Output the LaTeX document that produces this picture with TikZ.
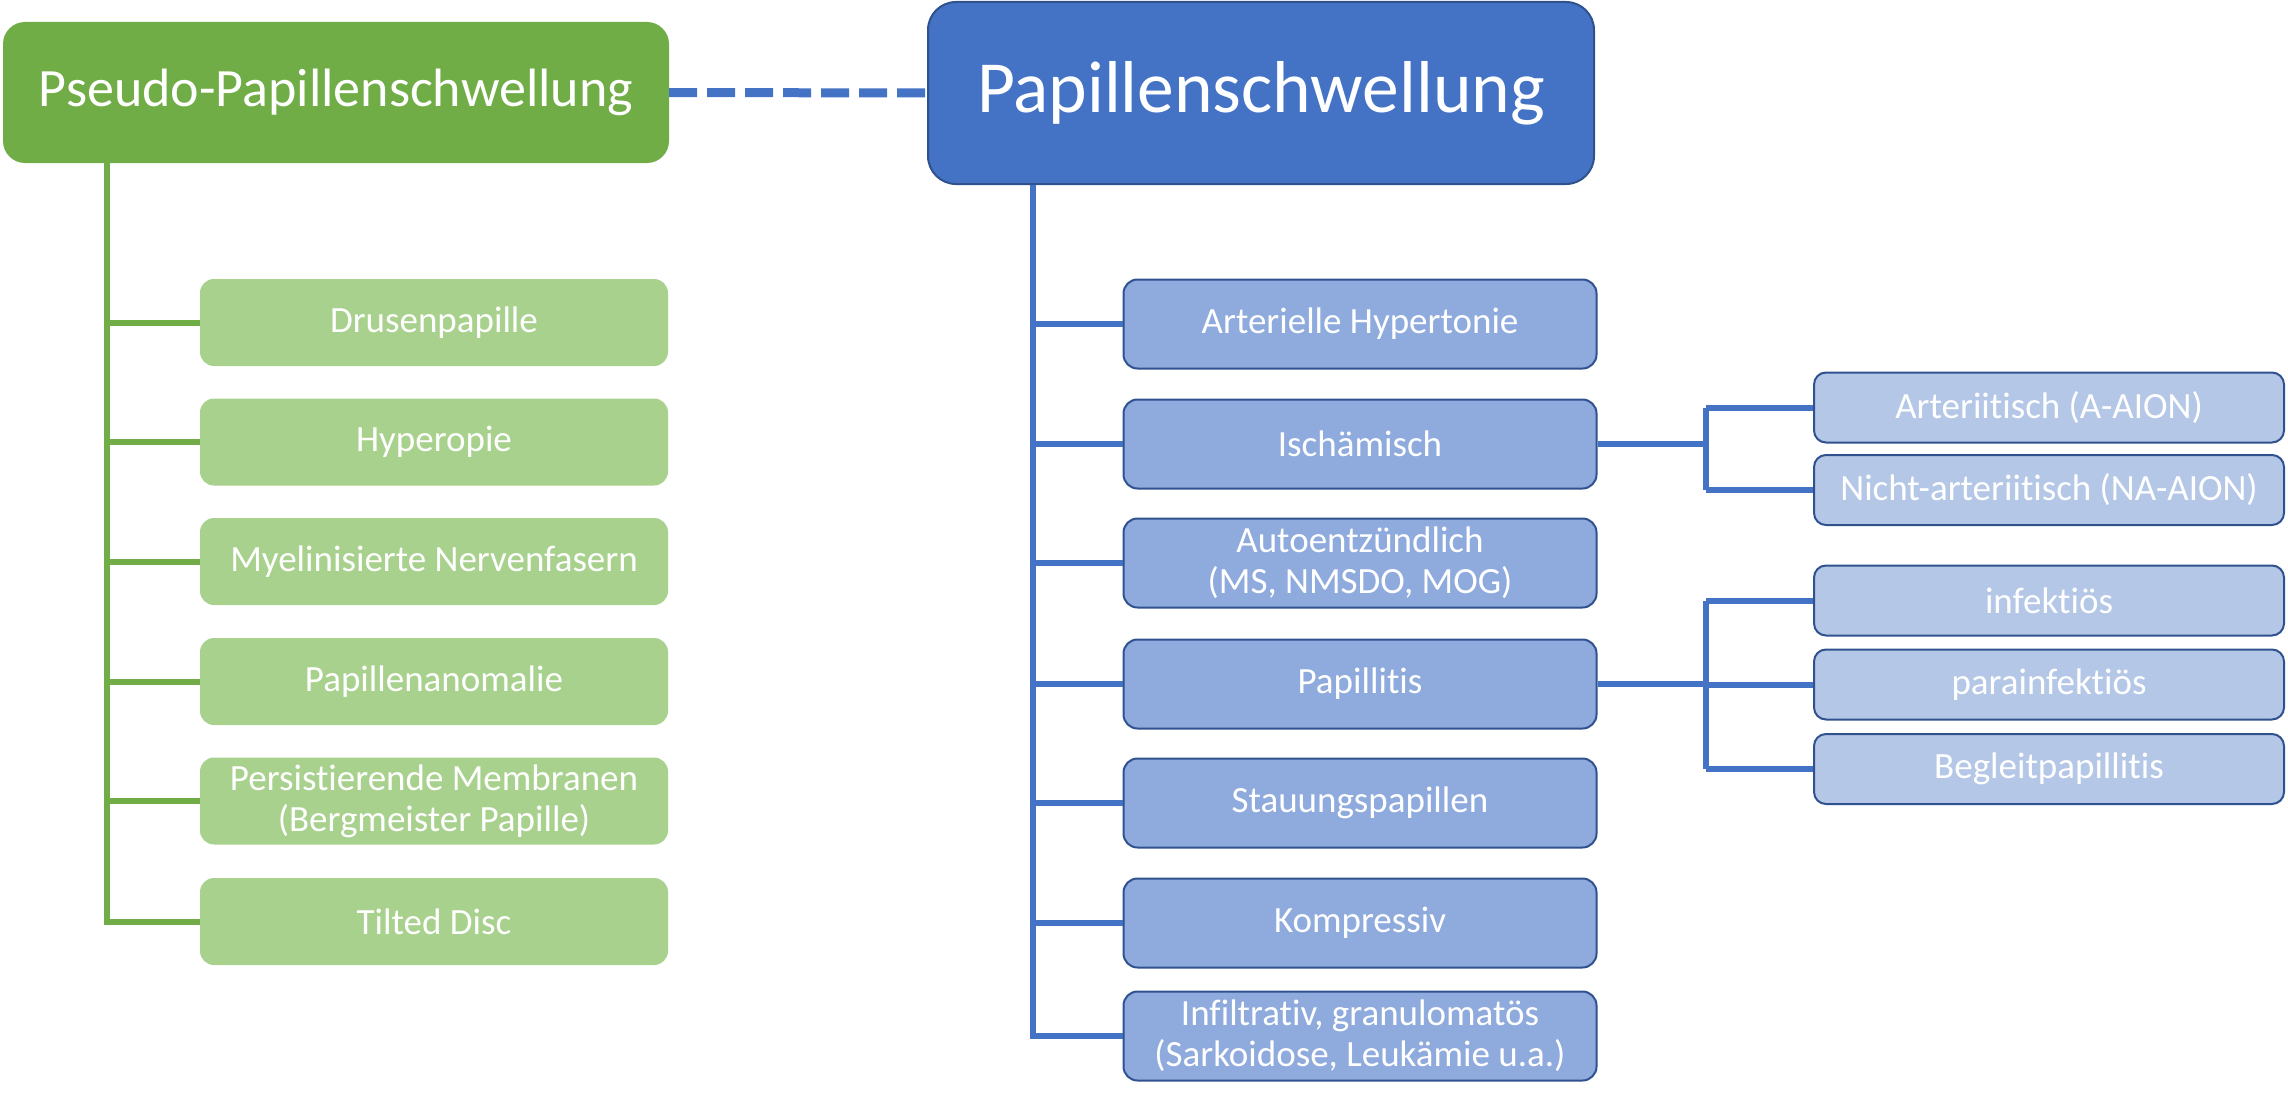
\documentclass[tikz,border=0pt]{standalone}
\usepackage{fontspec}
\setmainfont{Carlito}[Ligatures={NoCommon}]
\definecolor{gmainc}{HTML}{70AD47}
\definecolor{gkidc}{HTML}{A9D18E}
\definecolor{bmainc}{HTML}{4472C4}
\definecolor{bkidc}{HTML}{8FAADC}
\definecolor{bsubc}{HTML}{B4C7E7}
\definecolor{bdark}{HTML}{2F528F}
\begin{document}
\begin{tikzpicture}[x=1pt,y=-1pt,
  gmainbox/.style={fill=gmainc, draw=none, rounded corners=22pt, minimum width=666pt, minimum height=141pt, text=white, font=\fontsize{54}{60}\selectfont, inner sep=0pt},
  bmainbox/.style={fill=bmainc, draw=bdark, line width=2pt, rounded corners=28pt, minimum width=666pt, minimum height=182pt, text=white, font=\fontsize{73.5}{80}\selectfont, inner sep=0pt},
  gkid/.style={fill=gkidc, draw=none, rounded corners=14pt, minimum width=468pt, minimum height=87pt, text=white, font=\fontsize{37}{41}\selectfont, align=center, inner sep=0pt},
  bkid/.style={fill=bkidc, draw=bdark, line width=2pt, rounded corners=14pt, minimum width=473pt, minimum height=89pt, text=white, font=\fontsize{37}{41}\selectfont, align=center, inner sep=0pt},
  bsub/.style={fill=bsubc, draw=bdark, line width=2pt, rounded corners=12pt, minimum width=470pt, minimum height=70pt, text=white, font=\fontsize{37}{41}\selectfont, align=center, inner sep=0pt},
  gline/.style={draw=gmainc, line width=6pt},
  bline/.style={draw=bmainc, line width=6pt},
]
\useasboundingbox (0,0) rectangle (2288,1105);

% main boxes
\node[gmainbox] (gmain) at (336,92.5) {Pseudo-Papillenschwellung};
\node[bmainbox] (bmain) at (1261,93) {Papillenschwellung};

% green children
\node[gkid] (g1) at (434,322.5) {Drusenpapille};
\node[gkid] (g2) at (434,442) {Hyperopie};
\node[gkid] (g3) at (434,561.5) {Myelinisierte Nervenfasern};
\node[gkid] (g4) at (434,681.5) {Papillenanomalie};
\node[gkid] (g5) at (434,801) {Persistierende Membranen\\(Bergmeister Papille)};
\node[gkid] (g6) at (434,921.5) {Tilted Disc};

% blue children
\node[bkid] (b1) at (1360,324) {Arterielle Hypertonie};
\node[bkid] (b2) at (1360,444) {Ischämisch};
\node[bkid] (b3) at (1360,563) {Autoentzündlich\\(MS, NMSDO, MOG)};
\node[bkid] (b4) at (1360,684) {Papillitis};
\node[bkid] (b5) at (1360,803) {Stauungspapillen};
\node[bkid] (b6) at (1360,923) {Kompressiv};
\node[bkid] (b7) at (1360,1036) {Infiltrativ, granulomatös\\(Sarkoidose, Leukämie u.a.)};

% sub boxes
\node[bsub] (s1) at (2049,407.5) {Arteriitisch (A-AION)};
\node[bsub] (s2) at (2049,490) {Nicht-arteriitisch (NA-AION)};
\node[bsub] (s3) at (2049,600.5) {infektiös};
\node[bsub] (s4) at (2049,684.5) {parainfektiös};
\node[bsub] (s5) at (2049,769) {Begleitpapillitis};

% trunk coordinates
\coordinate (gtrunk) at (107,163);
\coordinate (btrunk) at (1033,185);
\coordinate (isbr) at (1706,444);
\coordinate (pabr) at (1706,684);

% dashed link
\draw[bmainc, line width=9pt, dash pattern=on 28pt off 10pt] (gmain.east) -- (bmain.west);

% green tree
\draw[gline] (gtrunk) -- (gtrunk |- g6.west) -- (g6.west);
\foreach \n in {g1,g2,g3,g4,g5}
  \draw[gline] (gtrunk |- \n.west) -- (\n.west);

% blue tree
\draw[bline] (btrunk) -- (btrunk |- b7.west) -- (b7.west);
\foreach \n in {b1,b2,b3,b4,b5,b6}
  \draw[bline] (btrunk |- \n.west) -- (\n.west);

% Ischämisch branches
\draw[bline] (b2.east) -- (isbr);
\draw[bline] (isbr |- s1.west) -- (isbr |- s2.west);
\draw[bline] (isbr |- s1.west) -- (s1.west);
\draw[bline] (isbr |- s2.west) -- (s2.west);

% Papillitis branches
\draw[bline] (b4.east) -- (pabr);
\draw[bline] (pabr |- s3.west) -- (pabr |- s5.west);
\draw[bline] (pabr |- s3.west) -- (s3.west);
\draw[bline] (pabr |- s4.west) -- (s4.west);
\draw[bline] (pabr |- s5.west) -- (s5.west);
\end{tikzpicture}
\end{document}
